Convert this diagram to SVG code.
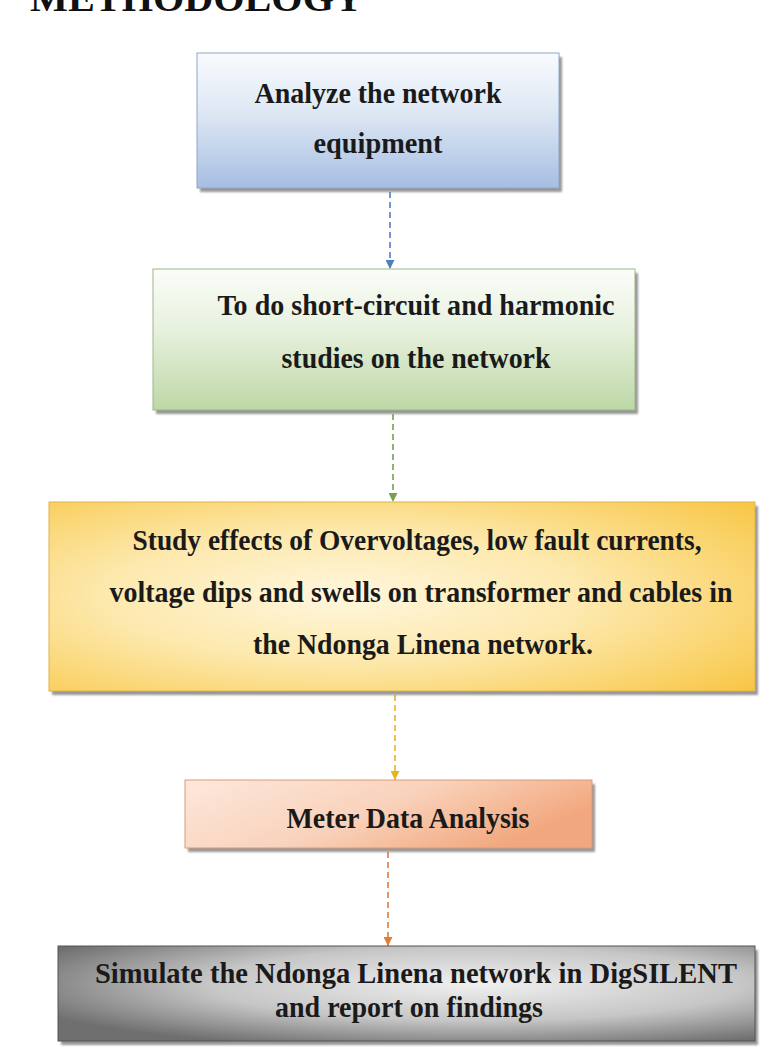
<svg xmlns="http://www.w3.org/2000/svg" width="780" height="1057" viewBox="0 0 780 1057">
<style>
.t{font-family:'Liberation Serif',serif;font-weight:700;font-size:29px;fill:#1a1a1a;text-anchor:middle}
.title{font-family:'Liberation Serif',serif;font-weight:700;font-size:38px;fill:#111}
.c{fill:none;stroke-width:1.6;stroke-dasharray:6 4}
.sh{fill:#7e7e7e;opacity:.8;filter:url(#blur)}
</style>
<defs>
<filter id="blur" x="-5%" y="-5%" width="110%" height="115%"><feGaussianBlur stdDeviation="1.3"/></filter>
<linearGradient id="gBlue" x1="0" y1="0" x2="0" y2="1">
<stop offset="0" stop-color="#f8fbfe"/><stop offset="0.45" stop-color="#dde7f4"/><stop offset="1" stop-color="#a6bee2"/>
</linearGradient>
<linearGradient id="gGreen" x1="0" y1="0" x2="0" y2="1">
<stop offset="0" stop-color="#fbfdf9"/><stop offset="0.4" stop-color="#e9f2e0"/><stop offset="1" stop-color="#bdd7a6"/>
</linearGradient>
<radialGradient id="gGold" cx="0.42" cy="0.5" r="0.75">
<stop offset="0" stop-color="#fff6dd"/><stop offset="0.45" stop-color="#fde9ae"/><stop offset="1" stop-color="#f8c747"/>
</radialGradient>
<linearGradient id="gPeach" x1="0" y1="0" x2="1" y2="0.4">
<stop offset="0" stop-color="#fde8dc"/><stop offset="0.55" stop-color="#f9d2bb"/><stop offset="1" stop-color="#f2a87e"/>
</linearGradient>
<radialGradient id="gGrey" cx="0.6" cy="0.4" r="0.7">
<stop offset="0" stop-color="#f0f0f0"/><stop offset="0.55" stop-color="#c6c6c6"/><stop offset="1" stop-color="#6f6f6f"/>
</radialGradient>
<marker id="mBlue" viewBox="0 0 10 10" refX="10" refY="5" markerWidth="9" markerHeight="9" markerUnits="userSpaceOnUse" orient="auto"><path d="M0,0 L10,5 L0,10 z" fill="#4f7fbe"/></marker>
<marker id="mGreen" viewBox="0 0 10 10" refX="10" refY="5" markerWidth="9" markerHeight="9" markerUnits="userSpaceOnUse" orient="auto"><path d="M0,0 L10,5 L0,10 z" fill="#76a052"/></marker>
<marker id="mGold" viewBox="0 0 10 10" refX="10" refY="5" markerWidth="9" markerHeight="9" markerUnits="userSpaceOnUse" orient="auto"><path d="M0,0 L10,5 L0,10 z" fill="#e8b322"/></marker>
<marker id="mOrange" viewBox="0 0 10 10" refX="10" refY="5" markerWidth="9" markerHeight="9" markerUnits="userSpaceOnUse" orient="auto"><path d="M0,0 L10,5 L0,10 z" fill="#e07b39"/></marker>
</defs>
<rect width="780" height="1057" fill="#ffffff"/>
<text class="title" font-family="Liberation Serif, serif" x="30" y="11" textLength="333" lengthAdjust="spacingAndGlyphs">METHODOLOGY</text>

<g id="connectors">
<line class="c" x1="390" y1="192" x2="390" y2="269" stroke="#4f7fbe" marker-end="url(#mBlue)"/>
<line class="c" x1="393" y1="414" x2="393" y2="502" stroke="#76a052" marker-end="url(#mGreen)"/>
<line class="c" x1="395" y1="695" x2="395" y2="780" stroke="#e8b322" marker-end="url(#mGold)"/>
<line class="c" x1="388" y1="852" x2="388" y2="946" stroke="#e07b39" marker-end="url(#mOrange)"/>
</g>

<g id="node1" font-family="Liberation Serif, serif">
<rect class="sh" x="200" y="57" width="362" height="135"/>
<rect x="197" y="53" width="362" height="135" fill="url(#gBlue)" stroke="#8fa6c7" stroke-width="1"/>
<text class="t" x="378" y="103" textLength="247" lengthAdjust="spacingAndGlyphs">Analyze the network</text>
<text class="t" x="378" y="153" textLength="129" lengthAdjust="spacingAndGlyphs">equipment</text>
</g>

<g id="node2" font-family="Liberation Serif, serif">
<rect class="sh" x="156" y="273" width="482" height="141"/>
<rect x="153" y="269" width="482" height="141" fill="url(#gGreen)" stroke="#9db789" stroke-width="1"/>
<text class="t" x="416" y="315" textLength="397" lengthAdjust="spacingAndGlyphs">To do short-circuit and harmonic</text>
<text class="t" x="416" y="368" textLength="269" lengthAdjust="spacingAndGlyphs">studies on the network</text>
</g>

<g id="node3" font-family="Liberation Serif, serif">
<rect class="sh" x="52" y="506" width="706" height="189"/>
<rect x="49" y="502" width="706" height="189" fill="url(#gGold)" stroke="#e0b24a" stroke-width="1"/>
<text class="t" x="417" y="550" textLength="569" lengthAdjust="spacingAndGlyphs">Study effects of Overvoltages, low fault currents,</text>
<text class="t" x="421" y="602" textLength="623" lengthAdjust="spacingAndGlyphs">voltage dips and swells on transformer and cables in</text>
<text class="t" x="423" y="654" textLength="340" lengthAdjust="spacingAndGlyphs">the Ndonga Linena network.</text>
</g>

<g id="node4" font-family="Liberation Serif, serif">
<rect class="sh" x="188" y="784" width="407" height="68"/>
<rect x="185" y="780" width="407" height="68" fill="url(#gPeach)" stroke="#d99a77" stroke-width="1"/>
<text class="t" x="408" y="828" textLength="243" lengthAdjust="spacingAndGlyphs">Meter Data Analysis</text>
</g>

<g id="node5" font-family="Liberation Serif, serif">
<rect class="sh" x="61" y="950" width="697" height="95"/>
<rect x="58" y="946" width="697" height="95" fill="url(#gGrey)" stroke="#555555" stroke-width="1"/>
<text class="t" x="416" y="983" textLength="642" lengthAdjust="spacingAndGlyphs">Simulate the Ndonga Linena network in DigSILENT</text>
<text class="t" x="409" y="1017" textLength="268" lengthAdjust="spacingAndGlyphs">and report on findings</text>
</g>
</svg>
